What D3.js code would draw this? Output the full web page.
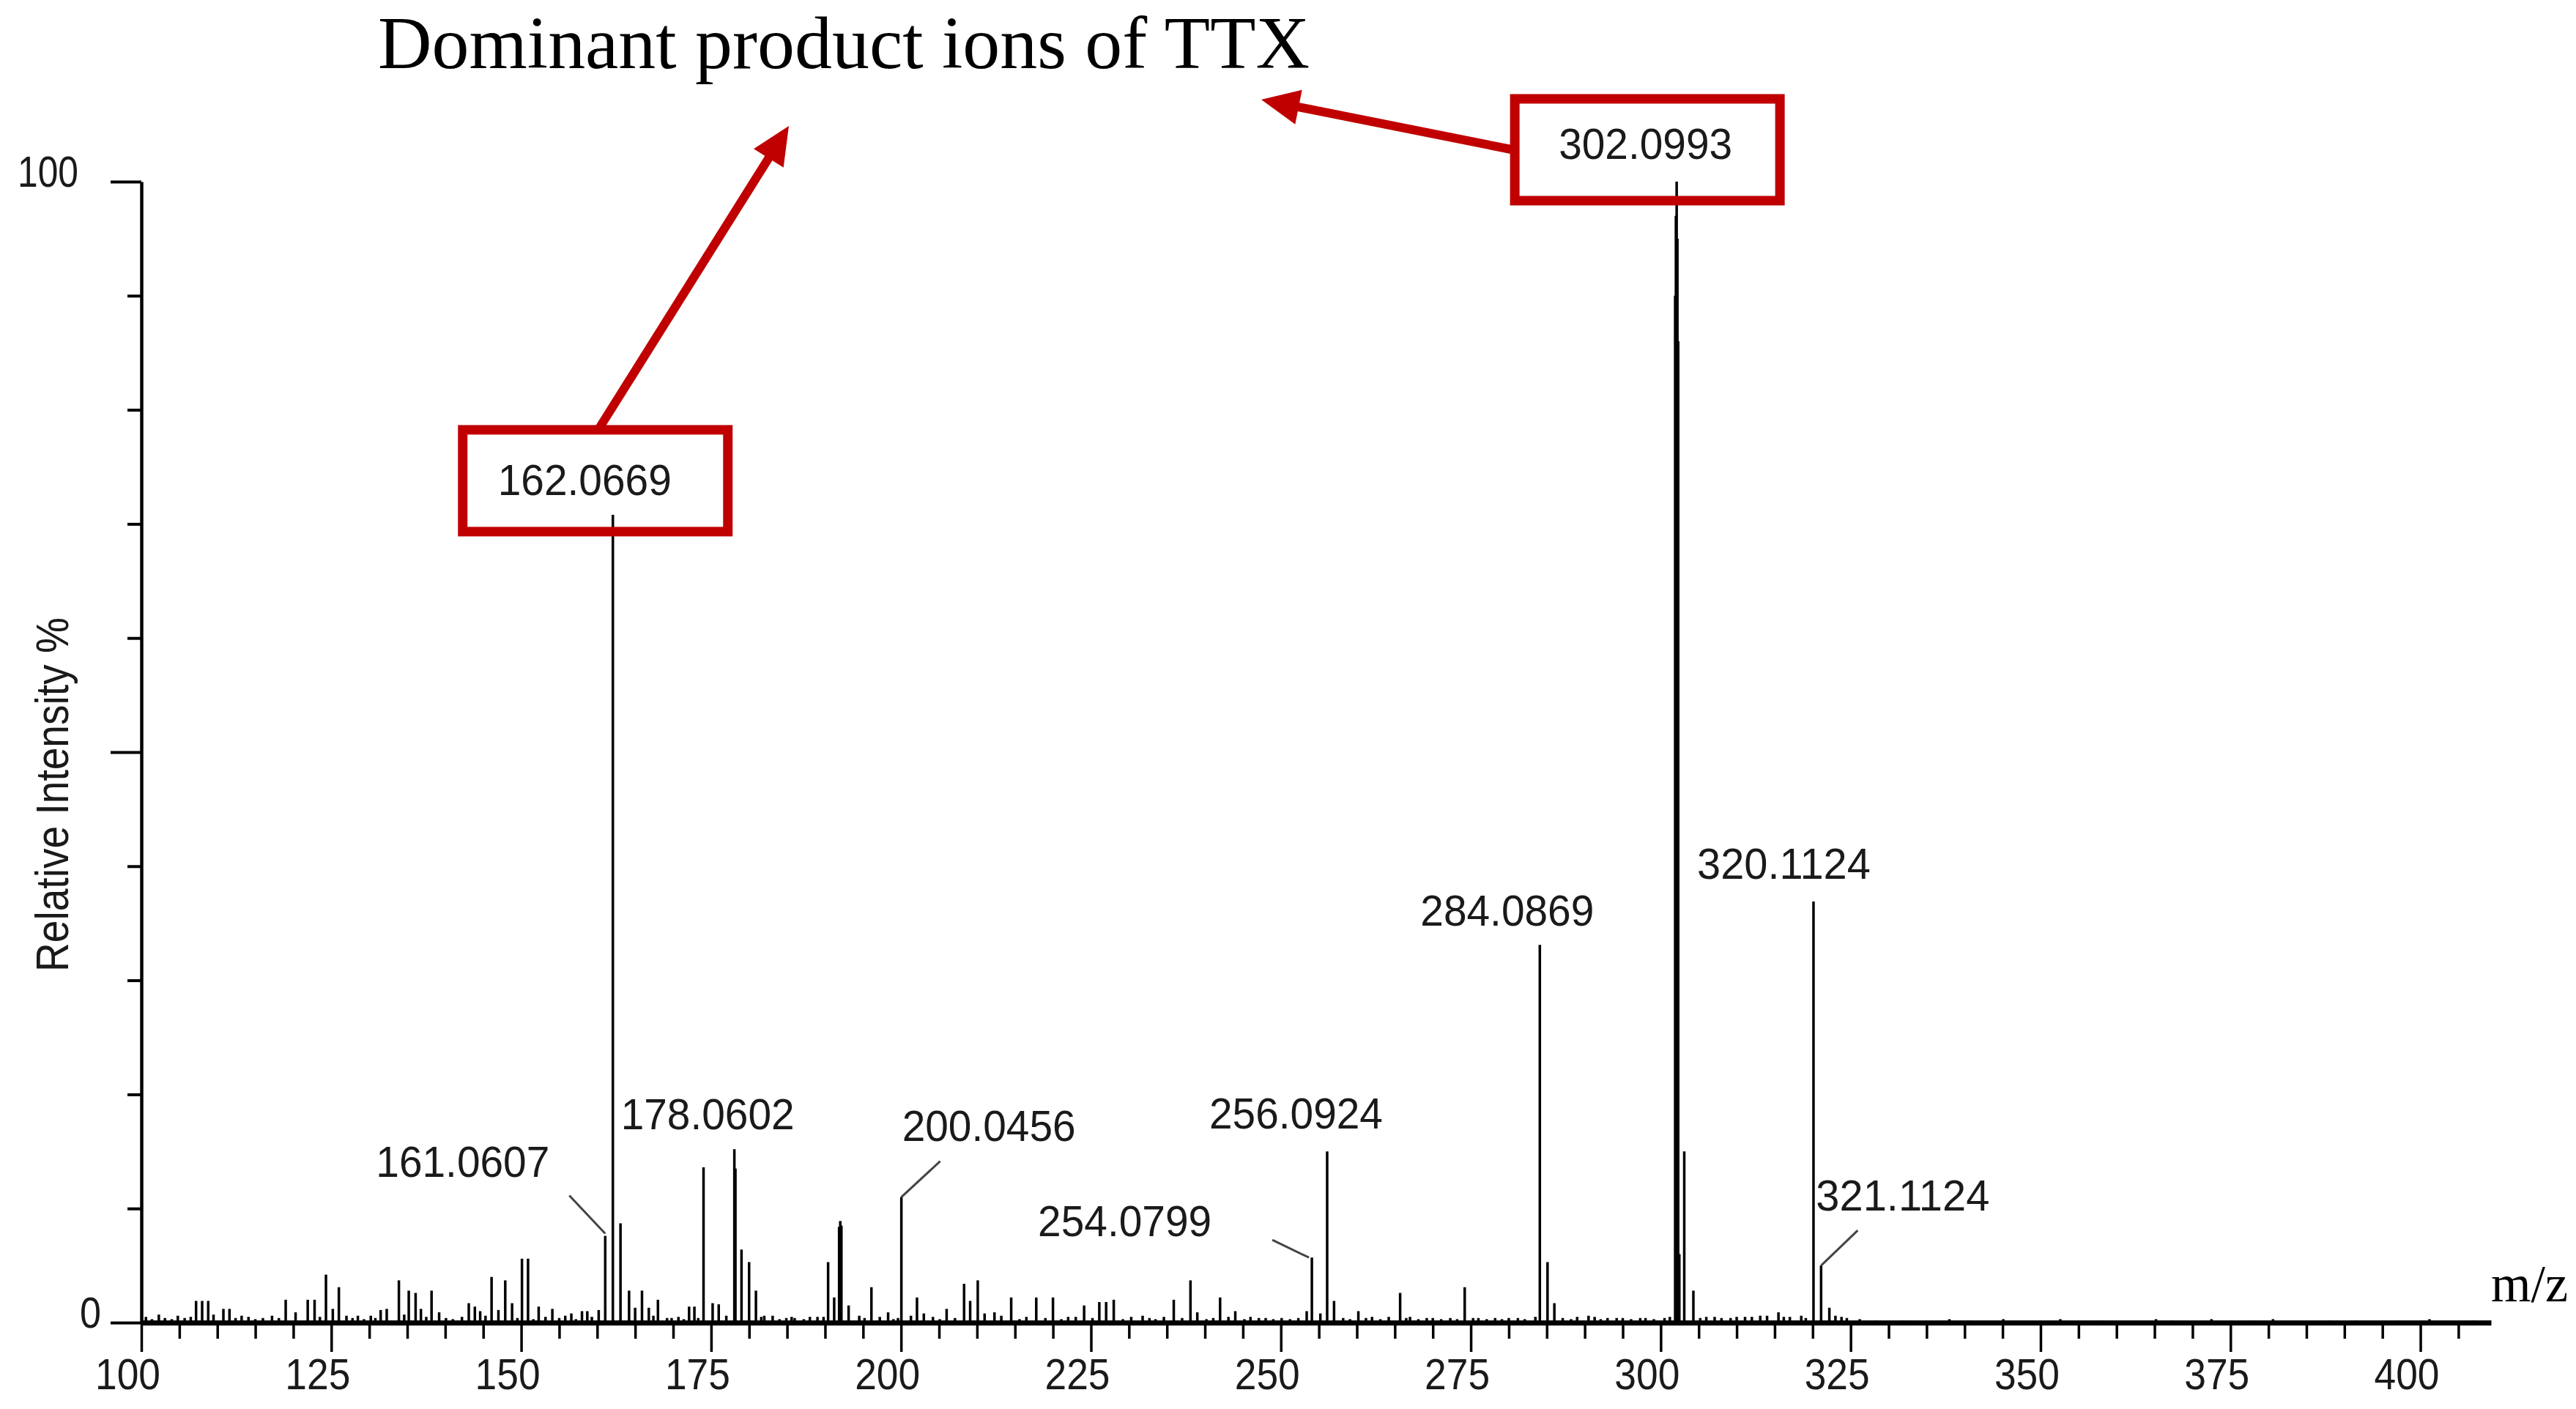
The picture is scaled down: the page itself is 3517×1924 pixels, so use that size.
<!DOCTYPE html>
<html>
<head>
<meta charset="utf-8">
<script src="https://cdn.jsdelivr.net/npm/d3@7"></script>
<style>
  body { margin: 0; background: #fff; }
  svg { display: block; }
</style>
</head>
<body>
<svg id="chart" width="3517" height="1924"></svg>
<script>
// main ions (m/z, relative intensity %)
let peakMz = [302.0993, 301.9, 302.0, 302.2, 302.3, 302.45, 162.0669, 320.1124, 284.0869, 178.0602, 178.2,
              256.0924, 303.1, 174.0, 200.0456, 163.07, 161.0607, 191.85, 192.0, 192.15, 254.0799,
              321.1124, 179.0, 180.0, 190.4, 285.1]
let peakIntensity = [100, 90, 97, 95, 86, 6, 70.8, 36.9, 33.1, 15.2, 13.5,
                     15.0, 15.0, 13.6, 11.0, 8.7, 7.6, 8.4, 8.9, 8.5, 5.7,
                     5.0, 6.4, 5.3, 5.3, 5.3]

// smaller fragment peaks
let minorMz = [107.2, 108.0, 108.8, 110.8, 111.6, 113.2, 116.0, 119.0, 120.3, 121.9, 122.8, 124.3, 125.2, 126.0,
               127.0, 128.5, 131.5, 132.3, 133.9, 135.2, 136.1, 136.8, 138.2, 139.2, 143.1, 143.9, 144.6, 146.1,
               147.0, 147.9, 148.8, 150.1, 150.9, 152.3, 154.1, 156.6, 158.0, 158.7, 160.2, 164.2, 165.0, 165.9,
               166.8, 168.0, 169.2, 172.1, 172.8, 175.2, 176.0, 180.9, 182.0, 183.1, 186.0, 188.0, 189.0, 191.2,
               193.1, 196.1, 198.3, 202.1, 203.0, 206.0, 208.3, 209.1, 210.1, 211.0, 212.3, 214.5, 217.8, 220.0,
               222.0, 224.1, 226.1, 227.0, 228.0, 231.8, 235.9, 238.1, 239.0, 242.0, 244.0, 246.0, 248.0, 253.4,
               257.0, 260.2, 262.0, 265.7, 267.0, 270.0, 274.2, 276.0, 280.0, 283.5, 286.0, 289.0, 290.5, 293.0,
               295.0, 298.0, 304.3, 306.0, 308.0, 310.0, 312.0, 314.0, 315.5, 317.0, 318.5, 322.2, 323.0, 324.5]
let minorIntensity = [1.9, 1.9, 1.9, 1.2, 1.2, 0.6, 0.4, 2.0, 0.9, 2.0, 2.0, 4.2, 1.2, 3.1,
                      0.6, 0.6, 1.1, 1.2, 3.7, 2.8, 2.6, 1.2, 2.8, 0.9, 1.7, 1.4, 1.0, 4.0,
                      1.1, 3.7, 1.7, 5.6, 5.6, 1.4, 1.2, 0.8, 1.0, 1.0, 1.1, 2.8, 1.3, 2.8,
                      1.3, 2.0, 0.4, 1.4, 1.4, 1.7, 1.6, 2.8, 0.6, 0.6, 0.4, 0.5, 0.5, 2.2,
                      1.5, 3.1, 0.9, 2.2, 0.8, 1.2, 3.4, 1.9, 3.7, 0.8, 0.9, 2.2, 2.2, 2.2,
                      0.5, 1.5, 1.8, 1.8, 2.0, 0.6, 2.0, 3.7, 0.9, 2.2, 1.0, 0.5, 0.4, 1.0,
                      1.9, 1.0, 0.5, 2.6, 0.5, 0.4, 3.1, 0.4, 0.4, 0.5, 1.7, 0.5, 0.6, 0.4,
                      0.4, 0.4, 2.8, 0.5, 0.4, 0.5, 0.5, 0.6, 0.9, 0.5, 0.6, 1.3, 0.6, 0.4]

// baseline grass
let grassMz = [100.6, 101.4, 102.3, 103.1, 104.0, 104.8, 105.7, 106.5, 109.5, 112.4, 114.1, 115.0, 117.2, 118.1,
               123.5, 127.8, 129.3, 130.2, 130.8, 134.6, 137.5, 140.1, 141.0, 142.2, 145.3, 149.5, 151.6, 153.2,
               155.0, 155.8, 157.2, 159.3, 167.4, 169.8, 170.7, 171.4, 173.3, 177.0, 181.6, 184.0, 184.9, 185.6,
               187.2, 189.8, 194.5, 195.2, 197.2, 199.0, 199.6, 201.3, 204.2, 205.1, 207.1, 213.2, 215.6, 216.5,
               219.0, 221.1, 223.0, 225.2, 229.2, 230.3, 232.7, 233.5, 234.6, 237.0, 240.2, 241.1, 243.1, 245.2,
               247.1, 249.0, 250.1, 251.2, 252.3, 255.2, 258.2, 259.1, 261.2, 263.1, 264.2, 266.5, 268.1, 269.2,
               271.1, 272.3, 273.2, 275.3, 277.1, 278.2, 279.1, 281.2, 282.1, 287.1, 288.2, 291.3, 292.1, 294.2,
               296.1, 297.3, 299.1, 300.5, 301.2, 305.2, 307.1, 309.2, 311.1, 313.1, 316.2, 319.1, 323.8, 326.2,
               328.4, 332.0, 338.0, 340.5, 345.1, 352.6, 358.0, 365.2, 367.4, 372.5, 378.0, 380.6, 388.1, 391.4,
               397.0, 401.2, 406.9]
let grassIntensity = [0.5, 0.3, 0.7, 0.4, 0.3, 0.6, 0.4, 0.5, 0.7, 0.4, 0.5, 0.3, 0.6, 0.4,
                      0.5, 0.4, 0.3, 0.6, 0.4, 0.7, 0.5, 0.4, 0.3, 0.5, 0.6, 0.4, 0.3, 0.5,
                      0.4, 0.6, 0.3, 0.5, 0.6, 0.4, 0.5, 0.3, 0.4, 0.6, 0.5, 0.3, 0.4, 0.5,
                      0.3, 0.5, 0.6, 0.4, 0.5, 0.3, 0.4, 0.6, 0.5, 0.3, 0.4, 0.6, 0.3, 0.5,
                      0.4, 0.3, 0.5, 0.4, 0.3, 0.5, 0.4, 0.3, 0.5, 0.4, 0.3, 0.4, 0.5, 0.3,
                      0.4, 0.3, 0.4, 0.3, 0.4, 0.8, 0.4, 0.3, 0.4, 0.3, 0.5, 0.4, 0.3, 0.4,
                      0.3, 0.4, 0.3, 0.4, 0.3, 0.4, 0.3, 0.4, 0.3, 0.4, 0.3, 0.5, 0.3, 0.4,
                      0.3, 0.4, 0.3, 0.4, 0.5, 0.4, 0.5, 0.4, 0.5, 0.6, 0.5, 0.4, 0.5, 0.3,
                      0.2, 0.2, 0.3, 0.2, 0.3, 0.3, 0.2, 0.3, 0.2, 0.3, 0.2, 0.3, 0.2, 0.2,
                      0.2, 0.3, 0.2]

// labelled ions
let labelText = ["162.0669", "302.0993", "320.1124", "284.0869", "178.0602",
                 "256.0924", "161.0607", "200.0456", "254.0799", "321.1124"]
let labelMz = [162.0669, 302.0993, 320.1124, 284.0869, 178.0602,
               256.0924, 161.0607, 200.0456, 254.0799, 321.1124]
let labelIntensity = [70.8, 100, 36.9, 33.1, 15.2, 15.0, 7.6, 11.0, 5.7, 5.0]
let boxedIons = ["162.0669", "302.0993"]

let xMajorTicks = [100, 125, 150, 175, 200, 225, 250, 275, 300, 325, 350, 375, 400]
let yTickValues = [0, 10, 20, 30, 40, 50, 60, 70, 80, 90, 100]
let yLabelTicks = [0, 100]

let titleText = "Dominant product ions of TTX"
let yTitle = "Relative Intensity %"
let xTitle = "m/z"

let sans = "'Liberation Sans', Arial, Helvetica, sans-serif"
let serif = "'Liberation Serif', 'Times New Roman', serif"
let red = "#c00000"

let svg = d3.select("#chart")
svg.append("rect").attr("width", 3517).attr("height", 1924).attr("fill", "#fff")

let x = d3.scaleLinear().domain([100, 409.3]).range([193, 3401])
let y = d3.scaleLinear().domain([0, 100]).range([1806, 248])

let allPeaks = []
grassMz.forEach((m, i) => allPeaks.push({ mz: m, v: grassIntensity[i] }))
minorMz.forEach((m, i) => allPeaks.push({ mz: m, v: minorIntensity[i] }))
peakMz.forEach((m, i) => allPeaks.push({ mz: m, v: peakIntensity[i] }))

svg.append("g")
    .selectAll("line")
    .data(allPeaks)
    .enter()
    .append("line")
    .attr("x1", d => x(d.mz))
    .attr("x2", d => x(d.mz))
    .attr("y1", y(0))
    .attr("y2", d => y(d.v))
    .attr("stroke", "#000")
    .attr("stroke-width", 3.5)

// x axis: minor ticks every 5, major every 25
let minorTicks = d3.range(100, 409, 5).filter(t => t % 25 !== 0)

svg.append("g")
    .attr("transform", `translate(0, ${y(0)})`)
    .call(d3.axisBottom(x).tickValues(minorTicks).tickSize(22).tickSizeOuter(0).tickFormat(""))
    .call(g => g.select(".domain").remove())
    .selectAll("line").attr("stroke-width", 3.5)

let xAxis = svg.append("g")
    .attr("transform", `translate(0, ${y(0)})`)
    .call(d3.axisBottom(x).tickValues(xMajorTicks).tickSize(40).tickSizeOuter(0))

xAxis.select(".domain").attr("stroke-width", 7)
xAxis.selectAll(".tick line").attr("stroke-width", 3.5)
xAxis.selectAll("text")
    .attr("x", -19)
    .attr("y", 91)
    .attr("dy", 0)
    .attr("fill", "#1a1a1a")
    .style("font-family", sans)
    .style("font-size", "60px")
    .attr("textLength", 89)
    .attr("lengthAdjust", "spacingAndGlyphs")

// y axis
let yAxis = svg.append("g")
    .attr("transform", `translate(${x(100)}, 0)`)
    .call(d3.axisLeft(y).tickValues(yTickValues).tickSizeOuter(0).tickFormat(""))

yAxis.select(".domain").attr("stroke-width", 4.5)
yAxis.selectAll(".tick line")
    .attr("x2", d => (d % 50 === 0 ? -42 : -19))
    .attr("stroke-width", 4)

svg.append("g")
    .selectAll("text")
    .data(yLabelTicks)
    .enter()
    .append("text")
    .attr("x", d => (d === 100 ? x(100) - 86 : x(100) - 55))
    .attr("y", d => y(d) + 7)
    .attr("text-anchor", "end")
    .attr("fill", "#1a1a1a")
    .style("font-family", sans)
    .style("font-size", "60px")
    .attr("textLength", d => (d === 100 ? 83 : 29))
    .attr("lengthAdjust", "spacingAndGlyphs")
    .text(d => d)

// axis titles
svg.append("text")
    .attr("transform", "translate(93, 1085) rotate(-90)")
    .attr("text-anchor", "middle")
    .attr("fill", "#1a1a1a")
    .style("font-family", sans)
    .style("font-size", "63px")
    .attr("textLength", 484)
    .attr("lengthAdjust", "spacingAndGlyphs")
    .text(yTitle)

svg.append("text")
    .attr("x", 3401)
    .attr("y", 1777)
    .style("font-family", serif)
    .style("font-size", "72px")
    .attr("textLength", 105)
    .attr("lengthAdjust", "spacingAndGlyphs")
    .text(xTitle)

svg.append("text")
    .attr("x", 516)
    .attr("y", 93)
    .style("font-family", serif)
    .style("font-size", "102px")
    .attr("textLength", 1272)
    .attr("lengthAdjust", "spacingAndGlyphs")
    .text(titleText)

// label placement relative to the peak top: [text dx, baseline dy, leader]
let labelLayout = {
    "162.0669": [-157, -27],
    "302.0993": [-161, -31],
    "320.1124": [-159, -31],
    "284.0869": [-163, -26],
    "178.0602": [-155, -27],
    "256.0924": [-161, -31],
    "161.0607": [-313, -81, [-49, -55, 0, -3]],
    "200.0456": [1, -77, [53, -49, 0, 0]],
    "254.0799": [-374, -29, [-54, -24, -4, 0]],
    "321.1124": [-7, -75, [50, -48, 0, 0]]
}

let labels = labelText.map((t, i) => ({ text: t, mz: labelMz[i], v: labelIntensity[i] }))

let labelGroup = svg.append("g")
    .selectAll("g")
    .data(labels)
    .enter()
    .append("g")
    .attr("transform", d => `translate(${x(d.mz)}, ${y(d.v)})`)

labelGroup.append("text")
    .attr("x", d => labelLayout[d.text][0])
    .attr("y", d => labelLayout[d.text][1])
    .attr("fill", "#1a1a1a")
    .style("font-family", sans)
    .style("font-size", "60px")
    .attr("textLength", 237)
    .attr("lengthAdjust", "spacingAndGlyphs")
    .text(d => d.text)

labelGroup.filter(d => labelLayout[d.text][2])
    .append("line")
    .attr("x1", d => labelLayout[d.text][2][0])
    .attr("y1", d => labelLayout[d.text][2][1])
    .attr("x2", d => labelLayout[d.text][2][2])
    .attr("y2", d => labelLayout[d.text][2][3])
    .attr("stroke", "#444")
    .attr("stroke-width", 3)

labelGroup.filter(d => boxedIons.includes(d.text))
    .append("rect")
    .attr("x", d => (d.text === "162.0669" ? -205 : -221))
    .attr("y", d => (d.text === "162.0669" ? -116 : -113))
    .attr("width", 362)
    .attr("height", 139)
    .attr("fill", "none")
    .attr("stroke", red)
    .attr("stroke-width", 13)

// red arrows pointing at the title
let drawArrow = (x1, y1, x2, y2) => {
    let len = Math.hypot(x2 - x1, y2 - y1)
    let ux = (x2 - x1) / len, uy = (y2 - y1) / len
    let headLen = 52, headW = 24
    let bx = x2 - ux * headLen, by = y2 - uy * headLen
    svg.append("line")
        .attr("x1", x1).attr("y1", y1)
        .attr("x2", bx + ux * 4).attr("y2", by + uy * 4)
        .attr("stroke", red)
        .attr("stroke-width", 12)
    svg.append("polygon")
        .attr("points", [
            [x2, y2],
            [bx - uy * headW, by + ux * headW],
            [bx + uy * headW, by - ux * headW]
        ].map(p => p.join(",")).join(" "))
        .attr("fill", red)
}

let box162 = [x(162.0669) - 205, y(70.8) - 116]
let box302 = [x(302.0993) - 221, y(100) - 113]
drawArrow(box162[0] + 185, box162[1], 1077, 172)
drawArrow(box302[0], box302[1] + 70, 1722, 136)
</script>
</body>
</html>
